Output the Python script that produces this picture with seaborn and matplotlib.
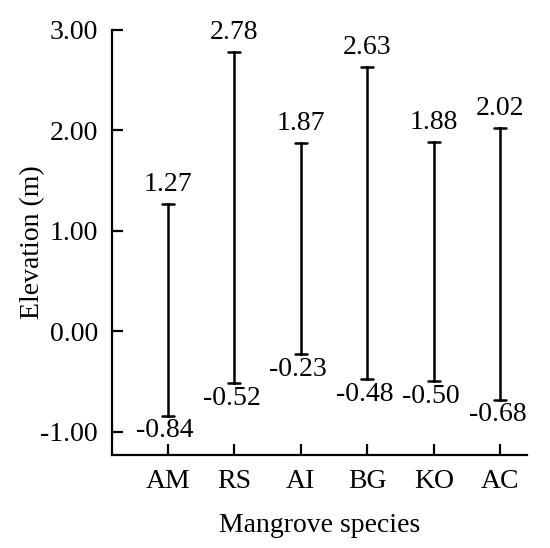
import pandas as pd
import matplotlib
matplotlib.use("Agg")
import matplotlib.pyplot as plt
import seaborn as sns

# Elevation range of each mangrove species
species = ["AM", "RS", "AI", "BG", "KO", "AC"]
elev_max = [1.27, 2.78, 1.87, 2.63, 1.88, 2.02]
elev_min = [-0.84, -0.52, -0.23, -0.48, -0.50, -0.68]

df = pd.DataFrame({
    "species": species * 2,
    "elevation": elev_max + elev_min,
})

sns.set_style("ticks")
plt.rcParams["font.family"] = ["Liberation Serif", "DejaVu Serif"]
plt.rcParams["text.color"] = "black"
plt.rcParams["axes.labelcolor"] = "black"

fig = plt.figure(figsize=(5.5, 5.48), dpi=100)
ax = fig.add_axes([0.2036, 0.170, 0.7544, 0.776])

sns.pointplot(data=df, x="species", y="elevation", order=species,
              errorbar=("pi", 100), capsize=0.18, color="black",
              marker="", linestyle="none", err_kws={"linewidth": 1.8},
              ax=ax)

for i, (hi, lo) in enumerate(zip(elev_max, elev_min)):
    ax.annotate(f"{hi:.2f}", (i, hi), xytext=(0, 5), textcoords="offset points",
                ha="center", va="bottom", fontsize=20, annotation_clip=False)
    ax.annotate(f"{lo:.2f}", (i, lo), xytext=(-2, -2), textcoords="offset points",
                ha="center", va="top", fontsize=20, annotation_clip=False)

ax.set_ylim(-1.23, 3.0)
ax.set_xlim(-0.84, 5.4)
ax.set_yticks([3, 2, 1, 0, -1])
ax.set_yticklabels(["3.00", "2.00", "1.00", "0.00", "-1.00"])
ax.tick_params(axis="both", direction="in", length=8, width=1.6,
               labelsize=20, pad=10, colors="black")
ax.set_xlabel("Mangrove species", fontsize=20, labelpad=14)
ax.set_ylabel("Elevation (m)", fontsize=20, labelpad=-3)

sns.despine(ax=ax)
for side in ["left", "bottom"]:
    ax.spines[side].set_linewidth(1.6)
    ax.spines[side].set_color("black")

fig.savefig("out.png", dpi=100)
